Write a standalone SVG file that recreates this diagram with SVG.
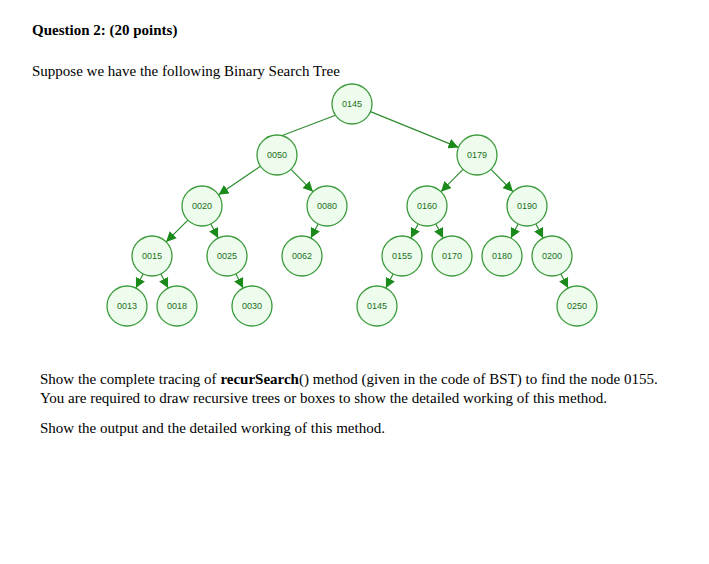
<svg xmlns="http://www.w3.org/2000/svg" width="709" height="564" viewBox="0 0 709 564">
<style>
.t{font-family:"Liberation Serif",serif;font-size:15px;fill:#000}
.n circle{fill:#edfced;stroke:#3a9a3a;stroke-width:1.3}
.n text{font-family:"Liberation Sans",Arial,sans-serif;font-size:9px;fill:#1a6e1a;text-anchor:middle;dominant-baseline:central}
#edges line{stroke:#2e8b2e;stroke-width:1.2;marker-end:url(#a)}
</style>
<defs><marker id="a" viewBox="0 0 10 10" refX="10" refY="5" markerWidth="10" markerHeight="10" markerUnits="userSpaceOnUse" orient="auto"><path d="M0,0L10,5L0,10z" fill="#1a8a1a"/></marker></defs>
<rect width="709" height="564" fill="#fff"/>
<text class="t" x="32" y="35" font-weight="bold">Question 2: (20 points)</text>
<text class="t" x="32" y="76">Suppose we have the following Binary Search Tree</text>
<g id="edges">
<line x1="335.5" y1="115.2" x2="260.5" y2="143.8"/>
<line x1="370.5" y1="111.6" x2="458.5" y2="147.4"/>
<line x1="260.5" y1="166.2" x2="218.5" y2="194.8"/>
<line x1="291" y1="169.3" x2="313" y2="191.7"/>
<line x1="463" y1="169.3" x2="441" y2="191.7"/>
<line x1="491" y1="169.3" x2="513" y2="191.7"/>
<line x1="187.9" y1="220.1" x2="166.1" y2="241.9"/>
<line x1="210.9" y1="223.9" x2="218.1" y2="238.1"/>
<line x1="318.1" y1="223.9" x2="310.9" y2="238.1"/>
<line x1="418.1" y1="223.9" x2="410.9" y2="238.1"/>
<line x1="435.9" y1="223.9" x2="443.1" y2="238.1"/>
<line x1="518.1" y1="223.9" x2="510.9" y2="238.1"/>
<line x1="535.9" y1="223.9" x2="543.1" y2="238.1"/>
<line x1="143.1" y1="273.9" x2="135.9" y2="288.1"/>
<line x1="160.9" y1="273.9" x2="168.1" y2="288.1"/>
<line x1="235.9" y1="273.9" x2="243.1" y2="288.1"/>
<line x1="393.1" y1="273.9" x2="385.9" y2="288.1"/>
<line x1="560.9" y1="273.9" x2="568.1" y2="288.1"/>
</g>
<g id="n0145" class="n"><circle cx="352" cy="104" r="20"/><text x="352" y="104">0145</text></g>
<g id="n0050" class="n"><circle cx="277" cy="155" r="20"/><text x="277" y="155">0050</text></g>
<g id="n0179" class="n"><circle cx="477" cy="155" r="20"/><text x="477" y="155">0179</text></g>
<g id="n0020" class="n"><circle cx="202" cy="206" r="20"/><text x="202" y="206">0020</text></g>
<g id="n0080" class="n"><circle cx="327" cy="206" r="20"/><text x="327" y="206">0080</text></g>
<g id="n0160" class="n"><circle cx="427" cy="206" r="20"/><text x="427" y="206">0160</text></g>
<g id="n0190" class="n"><circle cx="527" cy="206" r="20"/><text x="527" y="206">0190</text></g>
<g id="n0015" class="n"><circle cx="152" cy="256" r="20"/><text x="152" y="256">0015</text></g>
<g id="n0025" class="n"><circle cx="227" cy="256" r="20"/><text x="227" y="256">0025</text></g>
<g id="n0062" class="n"><circle cx="302" cy="256" r="20"/><text x="302" y="256">0062</text></g>
<g id="n0155" class="n"><circle cx="402" cy="256" r="20"/><text x="402" y="256">0155</text></g>
<g id="n0170" class="n"><circle cx="452" cy="256" r="20"/><text x="452" y="256">0170</text></g>
<g id="n0180" class="n"><circle cx="502" cy="256" r="20"/><text x="502" y="256">0180</text></g>
<g id="n0200" class="n"><circle cx="552" cy="256" r="20"/><text x="552" y="256">0200</text></g>
<g id="n0013" class="n"><circle cx="127" cy="306" r="20"/><text x="127" y="306">0013</text></g>
<g id="n0018" class="n"><circle cx="177" cy="306" r="20"/><text x="177" y="306">0018</text></g>
<g id="n0030" class="n"><circle cx="252" cy="306" r="20"/><text x="252" y="306">0030</text></g>
<g id="n0145b" class="n"><circle cx="377" cy="306" r="20"/><text x="377" y="306">0145</text></g>
<g id="n0250" class="n"><circle cx="577" cy="306" r="20"/><text x="577" y="306">0250</text></g>
<text class="t" x="40" y="384">Show the complete tracing of <tspan font-weight="bold">recurSearch</tspan>() method (given in the code of BST) to find the node 0155.</text>
<text class="t" x="40" y="403">You are required to draw recursive trees or boxes to show the detailed working of this method.</text>
<text class="t" x="40" y="433">Show the output and the detailed working of this method.</text>
</svg>
